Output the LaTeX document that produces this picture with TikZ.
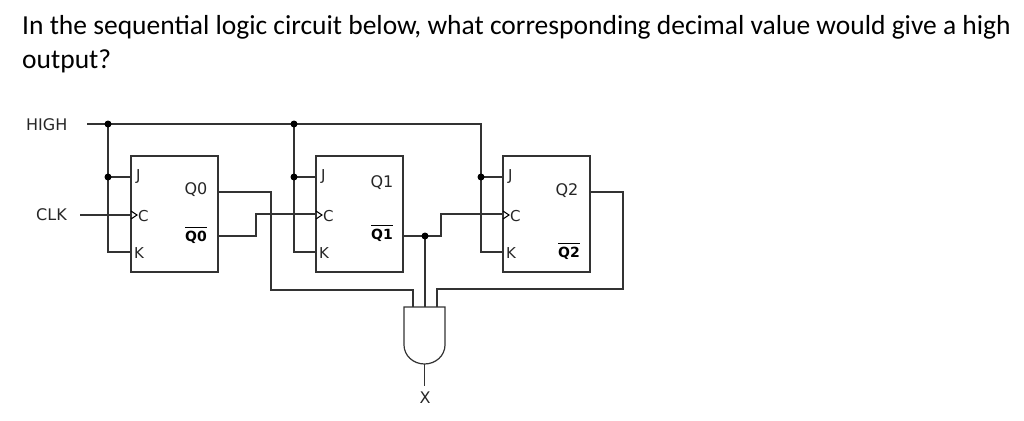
\documentclass[tikz,border=0pt]{standalone}
\usepackage{fontspec}
\setmainfont{Carlito}
\newfontfamily\lab{DejaVu Sans}
\newcommand{\obar}[1]{\leavevmode\vbox{\hrule height 1pt\kern 3pt\hbox{#1}}}
\begin{document}
\begin{tikzpicture}[x=1pt,y=-1pt,
  w/.style={line width=1.3pt,draw=black!80},
  box/.style={line width=1.2pt,draw=black!80},
  dot/.style={circle,fill=black,inner sep=0pt,minimum size=7pt},
  pin/.style={font=\lab\fontsize{15}{15}\selectfont,text=black!85,inner sep=0pt,anchor=west},
  lbl/.style={font=\lab\fontsize{16}{16}\selectfont,text=black!85,inner sep=0pt},
  lblb/.style={font=\lab\bfseries\fontsize{14}{14}\selectfont,inner sep=0pt}]
\useasboundingbox (0,0) rectangle (1024,420);
\node[anchor=base west,inner sep=0pt,font=\fontsize{27.5}{27.5}\selectfont] (t1) at (22,35) {In the sequential logic circuit below, what corresponding decimal value would give a high};
\node[anchor=base west,inner sep=0pt,font=\fontsize{27.5}{27.5}\selectfont] (t2) at (22,68) {output?};
\node[lbl,anchor=west] (high) at (26,125) {HIGH};
\node[lbl,anchor=west] (clk) at (36,215) {CLK};
% flip-flops
\foreach \n/\x in {0/131,1/316,2/503}{
  \draw[box] (\x,156) rectangle (\x+87,272);
  \draw[line width=1pt] (\x,211) -- (\x+6,215) -- (\x,219);
  \node[pin] at (\x+5,177) {J};
  \node[pin] at (\x+7,216) {C};
  \node[pin] at (\x+3,253) {K};
}
\node[lbl] (q0) at (196,190) {Q0};
\node[lblb,anchor=south] (q0b) at (196,244) {\obar{Q0}};
\node[lbl] (q1) at (382,183) {Q1};
\node[lblb,anchor=south] (q1b) at (382,242) {\obar{Q1}};
\node[lbl] (q2) at (567,191) {Q2};
\node[lblb,anchor=south] (q2b) at (569,260) {\obar{Q2}};
\coordinate (d1) at (108,124); \coordinate (d2) at (108,177);
\coordinate (d3) at (294,124); \coordinate (d4) at (294,177);
\coordinate (d5) at (481,177); \coordinate (d6) at (425,236);
% wires
\draw[w] (87,124) -- (481,124) -- (481,252) -- (503,252);
\draw[w] (d5) -- (503,177);
\draw[w] (d1) -- (108,252) -- (131,252);
\draw[w] (d2) -- (131,177);
\draw[w] (d3) -- (294,252) -- (316,252);
\draw[w] (d4) -- (316,177);
\draw[w] (80,215) -- (131,215);
\draw[w] (218,192) -- (271,192) -- (271,290) -- (413,290) -- (413,307);
\draw[w] (218,236) -- (256,236) -- (256,214) -- (316,214);
\draw[w] (403,236) -- (441,236) -- (441,214) -- (503,214);
\draw[w] (d6) -- (425,307);
\draw[w] (590,192) -- (623,192) -- (623,289) -- (437,289) -- (437,307);
% gate
\draw[box,fill=white] (404,307) -- (404,345) arc[start angle=180,end angle=360,x radius=20.5,y radius=-19] -- (445,307) -- cycle;
\coordinate (g) at (424.5,364);
\draw[w] (g) -- (424.5,386);
\node[lbl] (x) at (425,398) {X};
\foreach \d in {d1,d2,d3,d4,d5,d6} \node[dot] at (\d) {};
\end{tikzpicture}
\end{document}
